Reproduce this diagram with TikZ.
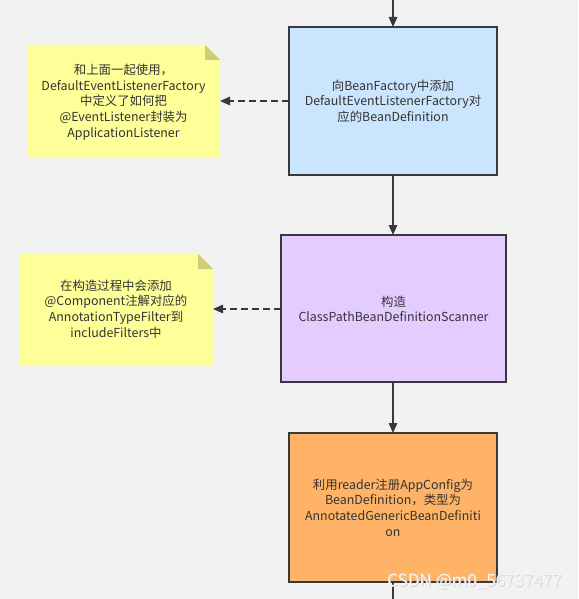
\documentclass[tikz,border=0pt]{standalone}
\usepackage{fontspec}
\setmainfont{Noto Sans CJK SC}
\usetikzlibrary{arrows.meta}
\definecolor{bg}{HTML}{F2F2F2}
\definecolor{edge}{HTML}{36393D}
\definecolor{bluefill}{HTML}{CCE5FF}
\definecolor{purplefill}{HTML}{E5CCFF}
\definecolor{orangefill}{HTML}{FFB366}
\definecolor{notefill}{HTML}{FFFF99}
\definecolor{foldfill}{HTML}{CCCC7A}
\definecolor{txt}{HTML}{333333}
\tikzset{
  flow/.style={draw=edge, line width=1.5pt, -{Triangle[length=10pt,width=8.5pt]}},
  dflow/.style={draw=edge, line width=1.5pt, dash pattern=on 7pt off 4pt, -{Triangle[length=10pt,width=8.5pt]}},
  notetext/.style={align=center, text=txt, font=\fontsize{12.4}{15.6}\selectfont, inner sep=0pt},
  boxshape/.style={draw=edge, line width=1.8pt},
}
\begin{document}
\begin{tikzpicture}[x=1pt,y=-1pt]
\useasboundingbox (0,0) rectangle (578,599);
\fill[bg] (0,0) rectangle (578,599);

% boxes
\filldraw[boxshape, fill=bluefill] (289,27) rectangle (497,175);
\node[notetext] (b1) at (393,101) {向BeanFactory中添加\\DefaultEventListenerFactory对\\应的BeanDefinition};
\coordinate (b1t) at (393,27);
\coordinate (b1b) at (393,175);
\coordinate (b1l) at (289,101);

\filldraw[boxshape, fill=purplefill] (281,235) rectangle (506,382);
\node[notetext] (b2) at (393.5,309) {构造\\ClassPathBeanDefinitionScanner};
\coordinate (b2t) at (393,235);
\coordinate (b2b) at (393,382);
\coordinate (b2l) at (281,309);

\filldraw[boxshape, fill=orangefill] (289,433) rectangle (497,582);
\node[notetext] (b3) at (393,507.5) {利用reader注册AppConfig为\\BeanDefinition，类型为\\AnnotatedGenericBeanDefiniti\\on};
\coordinate (b3t) at (393,433);
\coordinate (b3b) at (393,582);

% notes
\fill[notefill] (27,45) -- (205,45) -- (220,60) -- (220,157) -- (27,157) -- cycle;
\fill[foldfill] (205,45) -- (220,60) -- (205,60) -- cycle;
\node[notetext] (n1) at (123.5,102) {和上面一起使用，\\DefaultEventListenerFactory\\中定义了如何把\\@EventListener封装为\\ApplicationListener};
\coordinate (n1r) at (220,101);

\fill[notefill] (19,254) -- (198,254) -- (213,269) -- (213,365) -- (19,365) -- cycle;
\fill[foldfill] (198,254) -- (213,269) -- (198,269) -- cycle;
\node[notetext] (n2) at (116,309) {在构造过程中会添加\\@Component注解对应的\\AnnotationTypeFilter到\\includeFilters中};
\coordinate (n2r) at (213,309);

% connectors
\coordinate (top) at (393,0);
\coordinate (bot) at (393,599);
\draw[flow] (top) -- (b1t);
\draw[flow] (b1b) -- (b2t);
\draw[flow] (b2b) -- (b3t);
\draw[draw=edge, line width=1.5pt] (b3b) -- (bot);
\draw[dflow] (b1l) -- (n1r);
\draw[dflow] (b2l) -- (n2r);

% watermark
\node[font=\fontsize{17}{17}\selectfont, text=gray!35, anchor=center] (wm1) at (475.3,582.3) {CSDN @m0\_56737477};
\node[font=\fontsize{17}{17}\selectfont, text=white!92!gray, anchor=center] (wm) at (474.5,581.5) {CSDN @m0\_56737477};
\end{tikzpicture}
\end{document}
